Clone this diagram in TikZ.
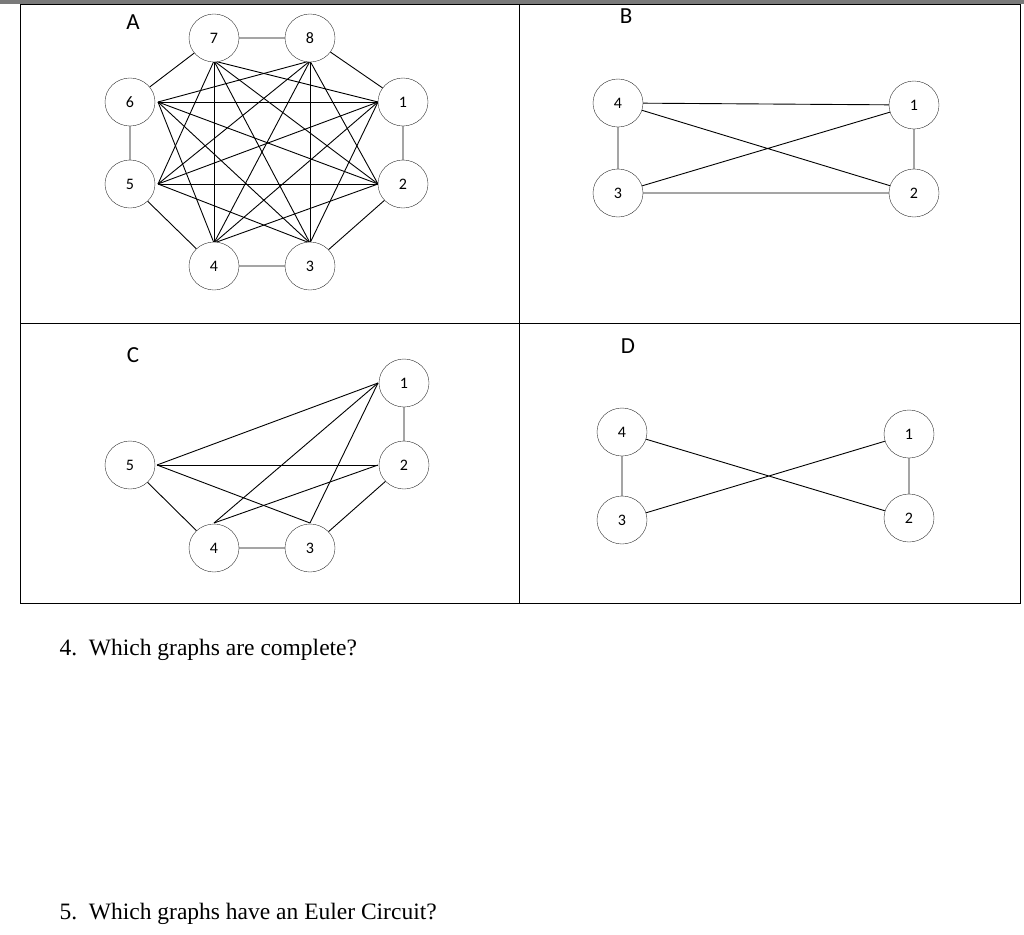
\documentclass[tikz,border=0pt]{standalone}
\usepackage{fontspec}
\setmainfont{Carlito}
\newfontfamily\qfont{Liberation Serif}
\usetikzlibrary{shapes.geometric}
\begin{document}
\begin{tikzpicture}[x=1pt,y=-1pt,
  v/.style={draw=black!80,ellipse,minimum width=50,minimum height=48,inner sep=0,font=\fontsize{16}{16}\selectfont,fill=white},
  ed/.style={line width=0.9pt},
  lab/.style={font=\fontsize{23}{23}\selectfont},
  q/.style={font=\qfont\fontsize{23.5}{23.5}\selectfont,anchor=west}]
\useasboundingbox (0,0) rectangle (1024,934);
\fill[gray!70!black!80] (0,0) rectangle (1024,4);
\draw[line width=0.8pt] (20,4) rectangle (1020,603) (20,323) -- (1020,323) (519,4) -- (519,603);
% A
\node[lab] (la) at (133,22) {A};
\coordinate (a7) at (214,61); \coordinate (a8) at (310,61);
\coordinate (a6) at (158,102); \coordinate (a1) at (378,102);
\coordinate (a5) at (158,184); \coordinate (a2) at (378,184);
\coordinate (a4) at (214,243); \coordinate (a3) at (310,243);
\foreach \i/\j in {7/1,7/2,7/3,7/4,7/5,8/2,8/3,8/4,8/5,8/6,6/1,6/2,6/3,6/4,5/1,5/2,5/3,1/3,1/4,2/4}
  \draw[ed] (a\i) -- (a\j);
\node[v] (n7) at (214,38) {7}; \node[v] (n8) at (310,38) {8};
\node[v] (n6) at (130,102) {6}; \node[v] (n1) at (403,102) {1};
\node[v] (n5) at (130,184) {5}; \node[v] (n2) at (403,184) {2};
\node[v] (n4) at (214,266) {4}; \node[v] (n3) at (310,266) {3};
\draw[ed] (n7)--(n8) (n8)--(n1) (n1)--(n2) (n2)--(n3) (n3)--(n4) (n4)--(n5) (n5)--(n6) (n6)--(n7);
% B
\node[lab] (lb) at (626,16) {B};
\node[v] (b4) at (618,103) {4}; \node[v] (b3) at (618,193) {3};
\node[v] (b1) at (914,105) {1}; \node[v] (b2) at (914,193) {2};
\draw[ed] (b4)--(b3) (b1)--(b2) (b4)--(b1) (b4)--(b2) (b3)--(b1) (b3)--(b2);
% C
\node[lab] (lc) at (133,355) {C};
\coordinate (c1) at (378,383); \coordinate (c5) at (157,465);
\coordinate (c2) at (378,465); \coordinate (c4) at (214,523); \coordinate (c3) at (310,523);
\foreach \i/\j in {5/1,5/2,5/3,4/1,4/2,3/1} \draw[ed] (c\i) -- (c\j);
\node[v] (m1) at (404,383) {1}; \node[v] (m5) at (130,465) {5};
\node[v] (m2) at (404,465) {2}; \node[v] (m4) at (214,548) {4}; \node[v] (m3) at (310,548) {3};
\draw[ed] (m1)--(m2) (m5)--(m4) (m4)--(m3) (m3)--(m2);
% D
\node[lab] (ld) at (628,346) {D};
\node[v] (d4) at (622,432) {4}; \node[v] (d3) at (622,520) {3};
\node[v] (d1) at (909,434) {1}; \node[v] (d2) at (909,518) {2};
\draw[ed] (d4)--(d3) (d1)--(d2) (d4)--(d2) (d3)--(d1);
% questions
\node[q] (q4) at (56,650) {4.\ \ Which graphs are complete?};
\node[q] (q5) at (56,914) {5.\ \ Which graphs have an Euler Circuit?};
\end{tikzpicture}
\end{document}
